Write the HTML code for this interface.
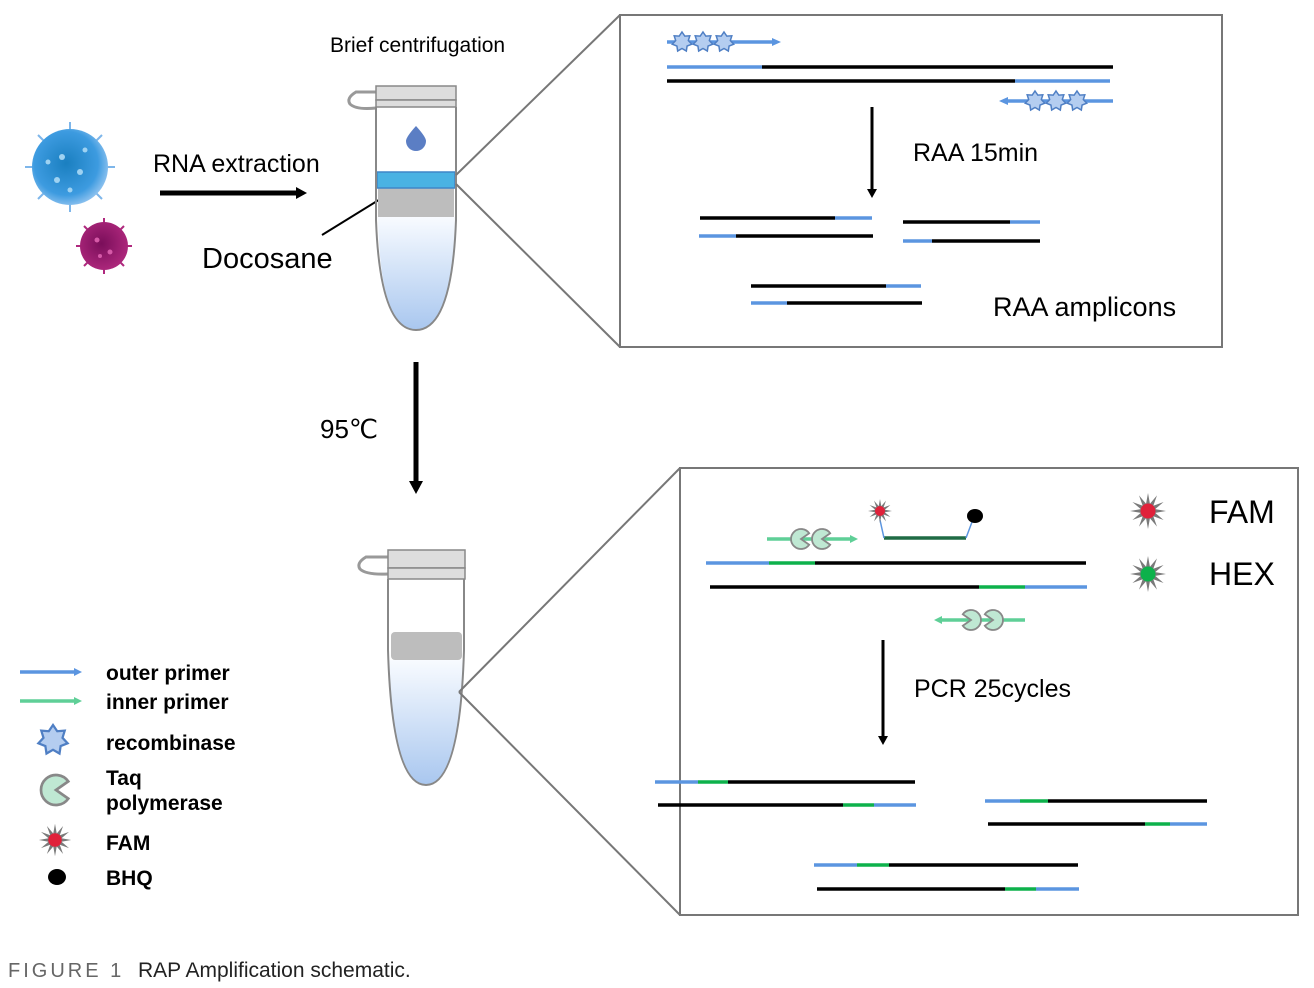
<!DOCTYPE html>
<html><head><meta charset="utf-8"><style>
html,body{margin:0;padding:0;background:#fff;}
svg{display:block;font-family:"Liberation Sans",sans-serif;}
</style></head><body>
<svg width="1314" height="988" viewBox="0 0 1314 988" xmlns="http://www.w3.org/2000/svg">
<defs>
<polygon id="st" points="0,-10 2.82,-5.86 7.82,-6.23 6.34,-1.45 9.75,2.23 5.08,4.05 4.34,9.01 0,6.5 -4.34,9.01 -5.08,4.05 -9.75,2.23 -6.34,-1.45 -7.82,-6.23 -2.82,-5.86" fill="#b4cdf0" stroke="#4f7fc4" stroke-width="1.5"/>
<polygon id="burst" points="12,0 4.83,1.29 10.39,6 3.54,3.54 6,10.39 1.29,4.83 0,12 -1.29,4.83 -6,10.39 -3.54,3.54 -10.39,6 -4.83,1.29 -12,0 -4.83,-1.29 -10.39,-6 -3.54,-3.54 -6,-10.39 -1.29,-4.83 0,-12 1.29,-4.83 6,-10.39 3.54,-3.54 10.39,-6 4.83,-1.29" fill="#7a7a7a"/>
<path id="pac" d="M0 0 L8.19 -5.74 A10 10 0 1 0 8.19 5.74 Z" fill="#bfe8d3" stroke="#888" stroke-width="1.8"/>
<radialGradient id="vb" cx="0.45" cy="0.45" r="0.6"><stop offset="0" stop-color="#1a7fc0"/><stop offset="0.7" stop-color="#3d9be0"/><stop offset="1" stop-color="#9cc9f2"/></radialGradient>
<radialGradient id="vp" cx="0.45" cy="0.45" r="0.6"><stop offset="0" stop-color="#7a0e5a"/><stop offset="1" stop-color="#b0297e"/></radialGradient>
<linearGradient id="liq" x1="0" y1="0" x2="0" y2="1"><stop offset="0" stop-color="#f8fbff"/><stop offset="1" stop-color="#a9c7ef"/></linearGradient>
</defs>

<!-- viruses -->
<g stroke="#7eb6ea" stroke-width="2">
<line x1="70" y1="122" x2="70" y2="212"/><line x1="25" y1="167" x2="115" y2="167"/>
<line x1="38" y1="135" x2="102" y2="199"/><line x1="102" y1="135" x2="38" y2="199"/>
</g>
<circle cx="70" cy="167" r="38" fill="url(#vb)"/>
<g fill="#9ed2f2"><circle cx="62" cy="157" r="3"/><circle cx="80" cy="172" r="3"/><circle cx="57" cy="180" r="3"/><circle cx="85" cy="150" r="2.5"/><circle cx="48" cy="162" r="2.5"/><circle cx="70" cy="190" r="2.5"/></g>
<g stroke="#b0297e" stroke-width="2">
<line x1="104" y1="218" x2="104" y2="274"/><line x1="76" y1="246" x2="132" y2="246"/>
<line x1="84" y1="226" x2="124" y2="266"/><line x1="124" y1="226" x2="84" y2="266"/>
</g>
<circle cx="104" cy="246" r="24" fill="url(#vp)"/>
<g fill="#d65aa8"><circle cx="97" cy="240" r="2.5"/><circle cx="110" cy="252" r="2.5"/><circle cx="100" cy="256" r="2"/></g>

<text x="153" y="172" font-size="25">RNA extraction</text>
<line x1="160" y1="193" x2="297" y2="193" stroke="#000" stroke-width="5"/>
<polygon points="296,187 307,193 296,199" fill="#000"/>
<text x="330" y="52" font-size="21">Brief centrifugation</text>
<text x="202" y="268" font-size="29">Docosane</text>
<line x1="322" y1="235" x2="382" y2="198" stroke="#000" stroke-width="2"/>

<!-- top tube -->
<path d="M376 92 L356 92 Q346 98 350 104 Q356 110 376 108" fill="none" stroke="#999" stroke-width="3"/>
<rect x="376" y="86" width="80" height="14" fill="#ddd" stroke="#888" stroke-width="1.5"/>
<rect x="376" y="100" width="80" height="7" fill="#ddd" stroke="#888" stroke-width="1.5"/>
<path d="M376 217 L455 217 Q452 330 416 330 Q380 330 378 217 Z" fill="url(#liq)"/>
<rect x="378" y="188" width="76" height="29" fill="#bdbdbd"/>
<rect x="377" y="172" width="78" height="16" fill="#4ab2e3" stroke="#3f86c8" stroke-width="1.5"/>
<path d="M376 107 L376 220 Q380 330 416 330 Q452 330 456 220 L456 107" fill="none" stroke="#888" stroke-width="2"/>
<path d="M416 126 Q406 137 406 141 A10 10 0 0 0 426 141 Q426 137 416 126 Z" fill="#5b7ec4"/>

<!-- top panel -->
<polyline points="620,15 456,175" fill="none" stroke="#777" stroke-width="2"/>
<polyline points="456,184 620,347" fill="none" stroke="#777" stroke-width="2"/>
<rect x="620" y="15" width="602" height="332" fill="none" stroke="#777" stroke-width="2"/>
<g stroke-width="3.5" stroke-linecap="butt">
<line x1="667" y1="42" x2="773" y2="42" stroke="#5b95e0"/>
<line x1="667" y1="67" x2="762" y2="67" stroke="#5b95e0"/><line x1="762" y1="67" x2="1113" y2="67" stroke="#000"/>
<line x1="667" y1="81" x2="1015" y2="81" stroke="#000"/><line x1="1015" y1="81" x2="1110" y2="81" stroke="#5b95e0"/>
<line x1="1007" y1="101" x2="1113" y2="101" stroke="#5b95e0"/>
<line x1="700" y1="218" x2="835" y2="218" stroke="#000"/><line x1="835" y1="218" x2="872" y2="218" stroke="#5b95e0"/>
<line x1="699" y1="236" x2="736" y2="236" stroke="#5b95e0"/><line x1="736" y1="236" x2="873" y2="236" stroke="#000"/>
<line x1="903" y1="222" x2="1010" y2="222" stroke="#000"/><line x1="1010" y1="222" x2="1040" y2="222" stroke="#5b95e0"/>
<line x1="903" y1="241" x2="932" y2="241" stroke="#5b95e0"/><line x1="932" y1="241" x2="1040" y2="241" stroke="#000"/>
<line x1="751" y1="286" x2="886" y2="286" stroke="#000"/><line x1="886" y1="286" x2="921" y2="286" stroke="#5b95e0"/>
<line x1="751" y1="303" x2="787" y2="303" stroke="#5b95e0"/><line x1="787" y1="303" x2="922" y2="303" stroke="#000"/>
</g>
<polygon points="772,38 781,42 772,46" fill="#5b95e0"/>
<polygon points="1008,97 999,101 1008,105" fill="#5b95e0"/>
<use href="#st" x="682" y="42"/><use href="#st" x="703" y="42"/><use href="#st" x="724" y="42"/>
<use href="#st" x="1035" y="101"/><use href="#st" x="1056" y="101"/><use href="#st" x="1077" y="101"/>
<line x1="872" y1="107" x2="872" y2="190" stroke="#000" stroke-width="3"/>
<polygon points="867,189 872,198 877,189" fill="#000"/>
<text x="913" y="161" font-size="25">RAA 15min</text>
<text x="993" y="316" font-size="27">RAA amplicons</text>

<!-- middle arrow -->
<line x1="416" y1="362" x2="416" y2="482" stroke="#000" stroke-width="5"/>
<polygon points="409,481 416,494 423,481" fill="#000"/>
<text x="320" y="438" font-size="26">95℃</text>

<!-- bottom tube -->
<path d="M388 557 L366 557 Q356 563 360 569 Q366 575 388 574" fill="none" stroke="#999" stroke-width="3"/>
<rect x="388" y="550" width="77" height="18" fill="#ddd" stroke="#888" stroke-width="1.5"/>
<rect x="388" y="568" width="77" height="11" fill="#ddd" stroke="#888" stroke-width="1.5"/>
<path d="M389 660 L463 660 Q460 785 426 785 Q392 785 389 660 Z" fill="url(#liq)"/>
<rect x="391" y="632" width="71" height="28" rx="4" fill="#bdbdbd"/>
<path d="M388 579 L388 650 Q392 785 426 785 Q460 785 464 650 L464 579" fill="none" stroke="#888" stroke-width="2"/>

<!-- bottom panel -->
<line x1="680" y1="468" x2="459" y2="692" stroke="#777" stroke-width="2"/>
<line x1="459" y1="692" x2="680" y2="915" stroke="#777" stroke-width="2"/>
<rect x="680" y="468" width="618" height="447" fill="none" stroke="#777" stroke-width="2"/>
<g stroke-width="3.5">
<line x1="767" y1="539" x2="850" y2="539" stroke="#5fcf97"/>
<line x1="941" y1="620" x2="1025" y2="620" stroke="#5fcf97"/>
<line x1="706" y1="563" x2="769" y2="563" stroke="#5b95e0"/><line x1="769" y1="563" x2="815" y2="563" stroke="#0db14b"/><line x1="815" y1="563" x2="1086" y2="563" stroke="#000"/>
<line x1="710" y1="587" x2="979" y2="587" stroke="#000"/><line x1="979" y1="587" x2="1025" y2="587" stroke="#0db14b"/><line x1="1025" y1="587" x2="1087" y2="587" stroke="#5b95e0"/>
<line x1="655" y1="782" x2="698" y2="782" stroke="#5b95e0"/><line x1="698" y1="782" x2="728" y2="782" stroke="#0db14b"/><line x1="728" y1="782" x2="915" y2="782" stroke="#000"/>
<line x1="658" y1="805" x2="843" y2="805" stroke="#000"/><line x1="843" y1="805" x2="874" y2="805" stroke="#0db14b"/><line x1="874" y1="805" x2="916" y2="805" stroke="#5b95e0"/>
<line x1="985" y1="801" x2="1020" y2="801" stroke="#5b95e0"/><line x1="1020" y1="801" x2="1048" y2="801" stroke="#0db14b"/><line x1="1048" y1="801" x2="1207" y2="801" stroke="#000"/>
<line x1="988" y1="824" x2="1145" y2="824" stroke="#000"/><line x1="1145" y1="824" x2="1170" y2="824" stroke="#0db14b"/><line x1="1170" y1="824" x2="1207" y2="824" stroke="#5b95e0"/>
<line x1="814" y1="865" x2="857" y2="865" stroke="#5b95e0"/><line x1="857" y1="865" x2="889" y2="865" stroke="#0db14b"/><line x1="889" y1="865" x2="1078" y2="865" stroke="#000"/>
<line x1="817" y1="889" x2="1005" y2="889" stroke="#000"/><line x1="1005" y1="889" x2="1036" y2="889" stroke="#0db14b"/><line x1="1036" y1="889" x2="1079" y2="889" stroke="#5b95e0"/>
<line x1="884" y1="538" x2="966" y2="538" stroke="#1f6b45"/>
</g>
<polygon points="850,535 858,539 850,543" fill="#5fcf97"/>
<polygon points="942,616 934,620 942,624" fill="#5fcf97"/>
<use href="#pac" x="801" y="539"/><use href="#pac" x="822" y="539"/>
<use href="#pac" transform="translate(971,620) scale(-1,1)"/><use href="#pac" transform="translate(993,620) scale(-1,1)"/>
<line x1="880" y1="520" x2="884" y2="538" stroke="#5b95e0" stroke-width="1.5"/>
<line x1="966" y1="538" x2="972" y2="522" stroke="#5b95e0" stroke-width="1.5"/>
<use href="#burst" x="880" y="511"/><circle cx="880" cy="511" r="5" fill="#e0213a"/>
<ellipse cx="975" cy="516" rx="8" ry="7" fill="#000"/>
<line x1="883" y1="640" x2="883" y2="737" stroke="#000" stroke-width="3"/>
<polygon points="878,736 883,745 888,736" fill="#000"/>
<text x="914" y="697" font-size="25">PCR 25cycles</text>
<g transform="translate(1148,511) scale(1.5)"><use href="#burst"/><circle r="5" fill="#e0213a"/></g>
<g transform="translate(1148,574) scale(1.5)"><use href="#burst"/><circle r="5" fill="#0db14b"/></g>
<text x="1209" y="523" font-size="32">FAM</text>
<text x="1209" y="585" font-size="32">HEX</text>

<!-- legend -->
<line x1="20" y1="672" x2="75" y2="672" stroke="#5b95e0" stroke-width="3.5"/><polygon points="74,668 82,672 74,676" fill="#5b95e0"/>
<line x1="20" y1="701" x2="75" y2="701" stroke="#5fcf97" stroke-width="3.5"/><polygon points="74,697 82,701 74,705" fill="#5fcf97"/>
<use href="#st" transform="translate(53,740) scale(1.5)"/>
<use href="#pac" transform="translate(56,790) scale(1.5)"/>
<g transform="translate(55,840) scale(1.35)"><use href="#burst"/><circle r="5" fill="#e0213a"/></g>
<ellipse cx="57" cy="877" rx="9" ry="8" fill="#000"/>
<g font-size="21" font-weight="bold">
<text x="106" y="680">outer primer</text>
<text x="106" y="709">inner primer</text>
<text x="106" y="750">recombinase</text>
<text x="106" y="785">Taq</text>
<text x="106" y="810">polymerase</text>
<text x="106" y="850">FAM</text>
<text x="106" y="885">BHQ</text>
</g>

<text x="8" y="977" font-size="20" fill="#666" letter-spacing="3">FIGURE 1</text>
<text x="138" y="977" font-size="21" fill="#222">RAP Amplification schematic.</text>
</svg>
</body></html>
